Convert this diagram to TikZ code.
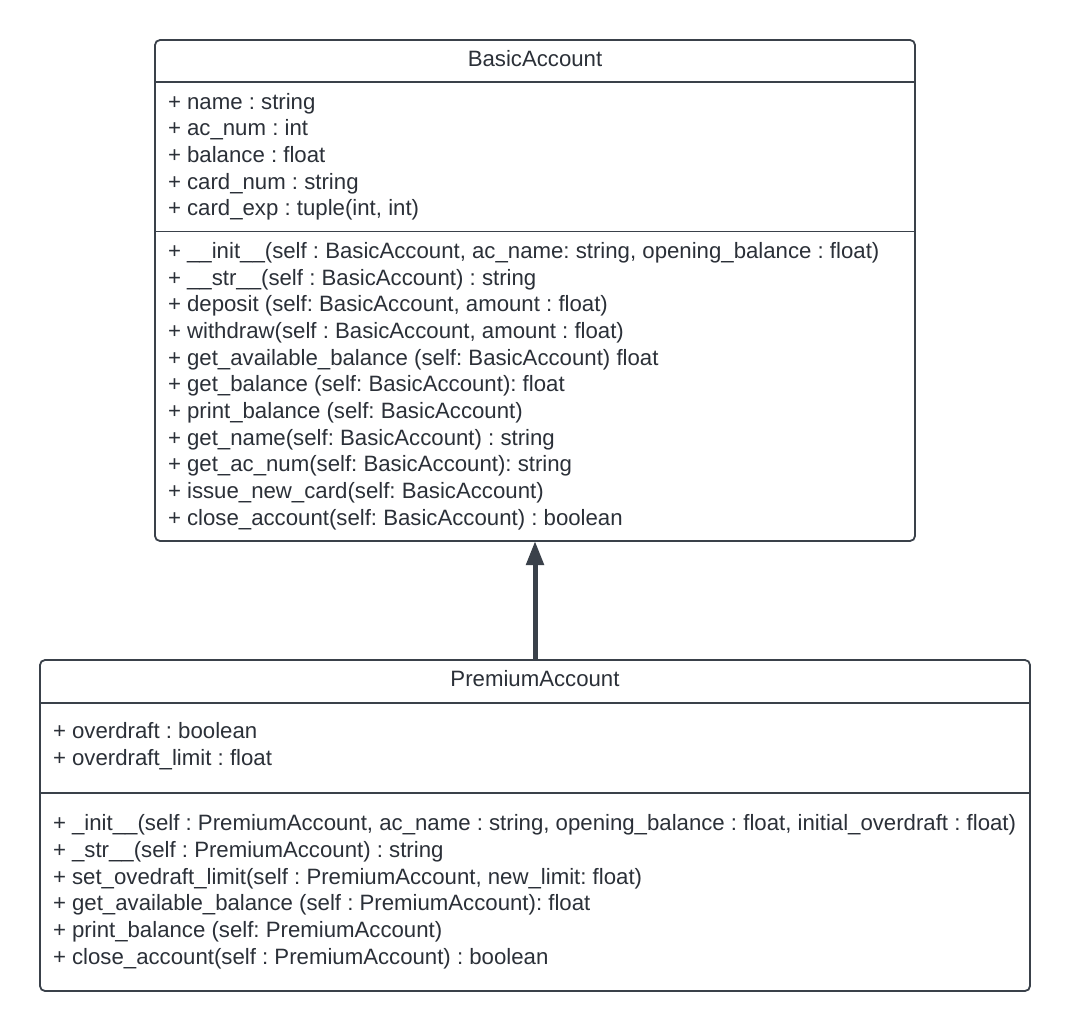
\documentclass[tikz,border=0pt]{standalone}
\usepackage{fontspec}
\setmainfont{Liberation Sans}
\usetikzlibrary{arrows.meta}
\definecolor{linec}{HTML}{3A414A}
\definecolor{textc}{HTML}{2B3038}
\frenchspacing
\begin{document}
\begin{tikzpicture}[x=1pt,y=-1pt,
  classbox/.style={draw=linec, line width=1.8pt, rounded corners=5pt, rectangle, inner sep=0pt, outer sep=0pt, fill=white},
  divider/.style={draw=linec, line width=1.8pt},
  txt/.style={anchor=base west, inner sep=0pt, outer sep=0pt, text=textc, font=\fontsize{22.2}{26}\selectfont},
  title/.style={anchor=base, inner sep=0pt, outer sep=0pt, text=textc, font=\fontsize{22.2}{26}\selectfont},
  inherit/.style={draw=linec, line width=5pt, -{Triangle[length=24pt,width=17pt]}}]
\useasboundingbox (0,0) rectangle (1070,1031);
\fill[white] (0,0) rectangle (1070,1031);
% boxes
\node[classbox, minimum width=760pt, minimum height=501pt] (basic) at (535,290.5) {};
\node[classbox, minimum width=990pt, minimum height=331pt] (prem) at (535,825.5) {};
% dividers
\draw[divider] (basic.west |- 0,82) -- (basic.east |- 0,82);
\draw[divider] (basic.west |- 0,231.5) -- (basic.east |- 0,231.5);
\draw[divider] (prem.west |- 0,703) -- (prem.east |- 0,703);
\draw[divider] (prem.west |- 0,793) -- (prem.east |- 0,793);
% BasicAccount texts
\node[title] (bt) at (535,66.7) {BasicAccount};
\node[txt] (ba1) at (168,109.3) {+ name : string};
\node[txt] (ba2) at (168,135.9) {+ ac\_num : int};
\node[txt] (ba3) at (168,162.5) {+ balance : float};
\node[txt] (ba4) at (168,189.1) {+ card\_num : string};
\node[txt] (ba5) at (168,215.7) {+ card\_exp : tuple(int, int)};
\node[txt] (bm1) at (168,258.6) {+ \_\_init\_\_(self : BasicAccount, ac\_name: string, opening\_balance : float)};
\node[txt] (bm2) at (168,285.25) {+ \_\_str\_\_(self : BasicAccount) : string};
\node[txt] (bm3) at (168,311.9) {+ deposit (self: BasicAccount, amount : float)};
\node[txt] (bm4) at (168,338.55) {+ withdraw(self : BasicAccount, amount : float)};
\node[txt] (bm5) at (168,365.2) {+ get\_available\_balance (self: BasicAccount) float};
\node[txt] (bm6) at (168,391.85) {+ get\_balance (self: BasicAccount): float};
\node[txt] (bm7) at (168,418.5) {+ print\_balance (self: BasicAccount)};
\node[txt] (bm8) at (168,445.15) {+ get\_name(self: BasicAccount) : string};
\node[txt] (bm9) at (168,471.8) {+ get\_ac\_num(self: BasicAccount): string};
\node[txt] (bm10) at (168,498.45) {+ issue\_new\_card(self: BasicAccount)};
\node[txt] (bm11) at (168,525.1) {+ close\_account(self: BasicAccount) : boolean};
% PremiumAccount texts
\node[title] (pt) at (535,686.9) {PremiumAccount};
\node[txt] (pa1) at (53,738.6) {+ overdraft : boolean};
\node[txt] (pa2) at (53,765.3) {+ overdraft\_limit : float};
\node[txt] (pm1) at (53,830.8) {+ \_init\_\_(self : PremiumAccount, ac\_name : string, opening\_balance : float, initial\_overdraft : float)};
\node[txt] (pm2) at (53,857.45) {+ \_str\_\_(self : PremiumAccount) : string};
\node[txt] (pm3) at (53,884.1) {+ set\_ovedraft\_limit(self : PremiumAccount, new\_limit: float)};
\node[txt] (pm4) at (53,910.75) {+ get\_available\_balance (self : PremiumAccount): float};
\node[txt] (pm5) at (53,937.4) {+ print\_balance (self: PremiumAccount)};
\node[txt] (pm6) at (53,964.05) {+ close\_account(self : PremiumAccount) : boolean};
% inheritance
\draw[inherit] (prem.north) -- (basic.south);
\end{tikzpicture}
\end{document}
